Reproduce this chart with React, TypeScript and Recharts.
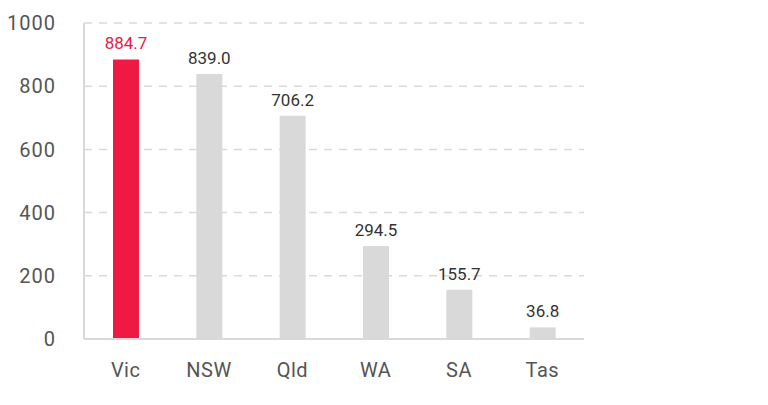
import { Bar, BarChart, CartesianGrid, Cell, LabelList, XAxis, YAxis } from "recharts";

const states = ["Vic", "NSW", "Qld", "WA", "SA", "Tas"];
const values = [884.7, 839.0, 706.2, 294.5, 155.7, 36.8];
const yTicks = [0, 200, 400, 600, 800, 1000];

const RED = "#EF1944";
const GREY = "#D9D9D9";
const FONT = "Roboto, 'Open Sans', sans-serif";

const data = states.map((state, i) => ({ state, value: values[i] }));

export default function App() {
  return (
    <div style={{ position: "absolute", left: 0, top: 0, width: 768, height: 405, background: "#fff" }}>
      <BarChart
        width={768}
        height={405}
        data={data}
        margin={{ top: 23, right: 184, left: 0, bottom: 0 }}
        barCategoryGap={0}
      >
        <CartesianGrid stroke={GREY} strokeWidth={1.5} strokeDasharray="8 7" vertical={false} />
        <XAxis
          dataKey="state"
          height={66}
          tickLine={false}
          axisLine={{ stroke: GREY, strokeWidth: 2 }}
          tickMargin={18}
          tick={{ fill: "#555", fontSize: 20, fontFamily: FONT, letterSpacing: 0.5 }}
        />
        <YAxis
          domain={[0, 1000]}
          ticks={yTicks}
          width={84}
          tickLine={false}
          axisLine={{ stroke: GREY, strokeWidth: 2 }}
          tickMargin={22}
          tick={{ fill: "#555", fontSize: 20, fontFamily: FONT, letterSpacing: 1 }}
        />
        <Bar dataKey="value" barSize={26} isAnimationActive={false}>
          {data.map((d) => (
            <Cell key={d.state} fill={d.state === "Vic" ? RED : GREY} />
          ))}
          <LabelList
            dataKey="value"
            content={(props: any) => {
              const { x, y, width, value, index } = props;
              return (
                <text
                  x={x + width / 2}
                  y={y - 10}
                  textAnchor="middle"
                  fill={index === 0 ? RED : "#333"}
                  fontSize={17}
                  fontFamily={FONT}
                >
                  {Number(value).toFixed(1)}
                </text>
              );
            }}
          />
        </Bar>
      </BarChart>
    </div>
  );
}
